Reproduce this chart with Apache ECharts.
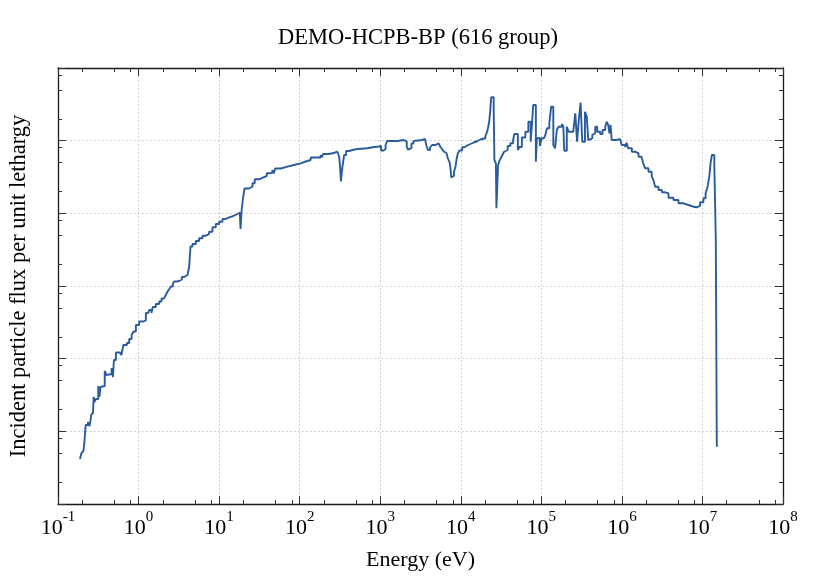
<!DOCTYPE html>
<html>
<head>
<meta charset="utf-8">
<script src="https://cdn.jsdelivr.net/npm/echarts@6/dist/echarts.min.js"></script>
<style>
html,body{margin:0;padding:0;background:#fff;}
#chart{width:825px;height:578px;}
</style>
</head>
<body>
<div id="chart"></div>
<script>
// Group lower energy bounds (eV); the final entry is the upper bound of the last group
const energyEdges = [
  0.1874,0.1956,0.2071,0.2131,0.2206,0.2354,0.2458,0.2529,0.2580,0.2716,
  0.2771,0.2835,0.2959,0.3160,0.3269,0.3364,0.3511,0.3803,0.3993,0.4227,
  0.4630,0.4806,0.4945,0.5236,0.5869,0.6127,0.6486,0.7166,0.7655,0.8199,
  0.8678,0.9267,1.018,1.154,1.233,1.316,1.354,1.442,1.505,1.640,
  1.803,1.930,2.061,2.182,2.291,2.411,2.516,2.665,2.766,2.987,
  3.189,3.445,3.679,4.054,4.244,4.416,4.676,5.137,5.645,6.220,
  6.834,7.509,8.275,9.092,9.99,11.01,12.09,13.29,15.07,16.89,
  18.15,18.46,18.99,19.82,20.69,23.52,25.92,27.68,31.30,35.48,
  38.98,42.84,45.87,47.61,49.70,58.15,70.40,84.97,102.9,118.7,
  136.9,182.1,187.4,195.6,228.8,266.2,293.4,308.9,317.8,325.1,
  339.3,356.2,377.2,408.5,454.0,519.2,690.9,803.5,961.8,1024,
  1100,1165,1222,1626,1963,2061,2133,2213,2343,2445,
  2590,2742,3320,3595,3753,3917,4148,4391,4853,5287,
  5598,5875,6185,6455,6642,6894,7093,7298,7446,7618,
  7996,8227,8588,8912,9224,9627,10400,11100,11990,13180,
  14480,16090,17530,20220,21230,22030,22670,23330,23860,25630,
  26150,27290,27690,29060,30160,31480,32860,34280,35790,38210,
  41280,44600,46280,51140,53380,57320,63360,69030,73710,76270,
  79160,85490,87960,93110,95810,100900,107400,112100,117700,125700,
  132300,140800,148300,155600,163900,179600,187400,192800,207100,217900,
  249300,263900,277800,291700,307000,322300,348100,366500,382500,405000,
  428800,444900,467000,494500,538700,575300,621400,648600,676900,700500,
  722800,748000,826700,953600,995300,1.100e6,1.142e6,1.198e6,1.331e6,1.463e6,
  1.608e6,1.752e6,1.839e6,1.947e6,2.139e6,2.344e6,2.481e6,2.590e6,2.845e6,3.135e6,
  3.445e6,3.786e6,4.366e6,5.036e6,5.808e6,6.699e6,7.727e6,8.514e6,9.357e6,1.028e7,
  1.095e7,1.159e7,1.216e7,1.263e7,1.311e7,1.403e7,1.465e7,1.507e7,1.550e7
];

// Flux per unit lethargy in each group (arbitrary units)
const flux = [
  4.16,5.03,5.36,7.36,12.2,13.4,11.8,13.9,16.8,17.9,
  29.7,25.3,27.9,42.1,29.7,40.7,42.1,67.7,59.6,61.5,
  74.4,55.9,95.9,121.6,127.5,112.3,154.2,164.3,186.5,211.7,
  236.5,290.6,324.7,335.2,425.0,445.8,467.4,425.0,514,565,
  612,673,717,752,840,909,984,1082,1153,1172,
  1229,1330,1417,1496,1843,3496,3785,4163,4533,4923,
  5195,5587,6424,7133,7672,8356,8820,9192,9791,10200,
  9192,6085,10770,16260,21970,23260,25900,29400,31310,32640,
  35550,36700,39470,35330,41400,43820,46260,48800,51680,54200,
  58670,63480,58670,65520,67630,70470,66990,60170,43410,27420,
  43410,63480,72060,74380,76780,78500,81030,83100,84460,73220,
  76780,87170,98940,102100,105400,97390,83100,75570,79250,91420,
  98940,102100,105400,98940,84460,74380,80530,87170,91990,87170,
  81800,76050,70470,67630,63480,57730,54200,49270,41660,31310,
  32640,37050,43820,57190,67630,73220,81030,85810,89970,94360,
  98940,103800,107800,116000,132900,159200,192500,278900,395300,264200,
  54200,48800,11730,46260,52510,57730,63480,69820,74380,84460,
  91990,102100,123500,74380,81800,110600,132900,182400,96780,155700,
  309600,51350,107800,108800,84460,107800,112300,119700,148000,173400,
  293400,87170,78500,140300,155700,169600,156700,72760,155700,132900,
  138000,238100,96780,192500,333000,96780,250400,213800,102100,107800,
  119700,126300,155700,132900,123500,140300,155700,182400,164300,126300,
  164300,102100,104400,102100,87170,81030,93760,78500,70470,66990,
  60170,61510,48800,41660,37400,32640,27860,23260,20950,19470,
  18870,16410,15260,13740,13020,12340,12110,12740,14180,16100,
  18870,23260,31920,49750,63480,49750,4435,6.28
];

const xRange = [0.1, 1e8];          // energy axis limits (eV)
const yRange = [1, 1e6];            // flux axis limits
const minorMultipliers = [2, 5, 8]; // minor tick positions within each decade

const titleText = 'DEMO-HCPB-BP (616 group)';
const xName = 'Energy (eV)';
const yName = 'Incident particle flux per unit lethargy';

const serif = "'Liberation Serif', 'Times New Roman', 'DejaVu Serif', serif";

function minorTicks(lo, hi) {
  const out = [];
  for (let d = lo; d < hi; d++) {
    minorMultipliers.forEach(m => out.push(d + Math.log10(m)));
  }
  return out;
}
const xLo = Math.round(Math.log10(xRange[0])), xHi = Math.round(Math.log10(xRange[1]));
const yLo = Math.round(Math.log10(yRange[0])), yHi = Math.round(Math.log10(yRange[1]));

const seriesData = energyEdges.map((e, i) => [e, flux[Math.min(i, flux.length - 1)]]);

const frameLine = () => ({ show: true, onZero: false, lineStyle: { color: '#1a1a1a', width: 1.3 } });
const noLine = () => ({ show: false, onZero: false });
const majorTick = () => ({ show: true, inside: true, length: 8, lineStyle: { color: '#333', width: 1 } });
const minorTickStyle = (vals) => ({ show: true, inside: true, length: 4, customValues: vals, lineStyle: { color: '#333', width: 1 } });
const gridLine = () => ({ show: true, lineStyle: { color: '#c2c2c2', width: 1, type: [1.5, 2.5] } });
const off = () => ({ show: false });

const chart = echarts.init(document.getElementById('chart'), null, { renderer: 'canvas' });
chart.setOption({
  animation: false,
  backgroundColor: '#fff',
  title: {
    text: titleText,
    left: 278,
    top: 27,
    padding: 0,
    textStyle: { fontFamily: serif, fontSize: 22.5, fontWeight: 'normal', color: '#000' }
  },
  grid: { left: 57, right: 42, top: 68, bottom: 74, containLabel: false },
  xAxis: [
    {
      type: 'log', logBase: 10, min: xRange[0], max: xRange[1], splitNumber: xHi - xLo,
      position: 'bottom',
      axisLine: frameLine(), axisTick: majorTick(),
      axisLabel: {
        show: true, margin: 6, interval: 0, showMinLabel: true, showMaxLabel: true, hideOverlap: false,
        formatter: v => '{b|10}{s|' + Math.round(Math.log10(v)) + '}',
        rich: {
          b: { fontFamily: serif, fontSize: 22, color: '#000' },
          s: { fontFamily: serif, fontSize: 15, color: '#000', padding: [0, 0, 22, 0] }
        }
      },
      splitLine: gridLine(), minorTick: off(), minorSplitLine: off(),
      name: xName, nameLocation: 'middle', nameGap: 45,
      nameTextStyle: { fontFamily: serif, fontSize: 22, color: '#000' }
    },
    {
      type: 'log', logBase: 10, min: xRange[0], max: xRange[1], splitNumber: xHi - xLo,
      position: 'top', axisLine: frameLine(), axisTick: majorTick(),
      axisLabel: off(), splitLine: off(), minorTick: off(), minorSplitLine: off()
    },
    {
      type: 'value', min: xLo, max: xHi, position: 'bottom',
      axisLine: noLine(), axisTick: minorTickStyle(minorTicks(xLo, xHi)),
      axisLabel: off(), splitLine: off(), splitArea: off(), minorSplitLine: off()
    },
    {
      type: 'value', min: xLo, max: xHi, position: 'top',
      axisLine: noLine(), axisTick: minorTickStyle(minorTicks(xLo, xHi)),
      axisLabel: off(), splitLine: off(), splitArea: off(), minorSplitLine: off()
    }
  ],
  yAxis: [
    {
      type: 'log', logBase: 10, min: yRange[0], max: yRange[1], splitNumber: yHi - yLo,
      position: 'left', axisLine: frameLine(), axisTick: majorTick(),
      axisLabel: off(), splitLine: gridLine(), minorTick: off(), minorSplitLine: off(),
      name: yName, nameLocation: 'middle', nameRotate: 90, nameGap: 27,
      nameTextStyle: { fontFamily: serif, fontSize: 22.5, color: '#000' }
    },
    {
      type: 'log', logBase: 10, min: yRange[0], max: yRange[1], splitNumber: yHi - yLo,
      position: 'right', axisLine: frameLine(), axisTick: majorTick(),
      axisLabel: off(), splitLine: off(), minorTick: off(), minorSplitLine: off()
    },
    {
      type: 'value', min: yLo, max: yHi, position: 'left',
      axisLine: noLine(), axisTick: minorTickStyle(minorTicks(yLo, yHi)),
      axisLabel: off(), splitLine: off(), splitArea: off(), minorSplitLine: off()
    },
    {
      type: 'value', min: yLo, max: yHi, position: 'right',
      axisLine: noLine(), axisTick: minorTickStyle(minorTicks(yLo, yHi)),
      axisLabel: off(), splitLine: off(), splitArea: off(), minorSplitLine: off()
    }
  ],
  series: [
    {
      type: 'line',
      step: 'end',
      xAxisIndex: 0,
      yAxisIndex: 0,
      data: seriesData,
      showSymbol: false,
      symbol: 'none',
      lineStyle: { color: '#2a5c9d', width: 1.9 },
      z: 5
    }
  ]
});
</script>
</body>
</html>
